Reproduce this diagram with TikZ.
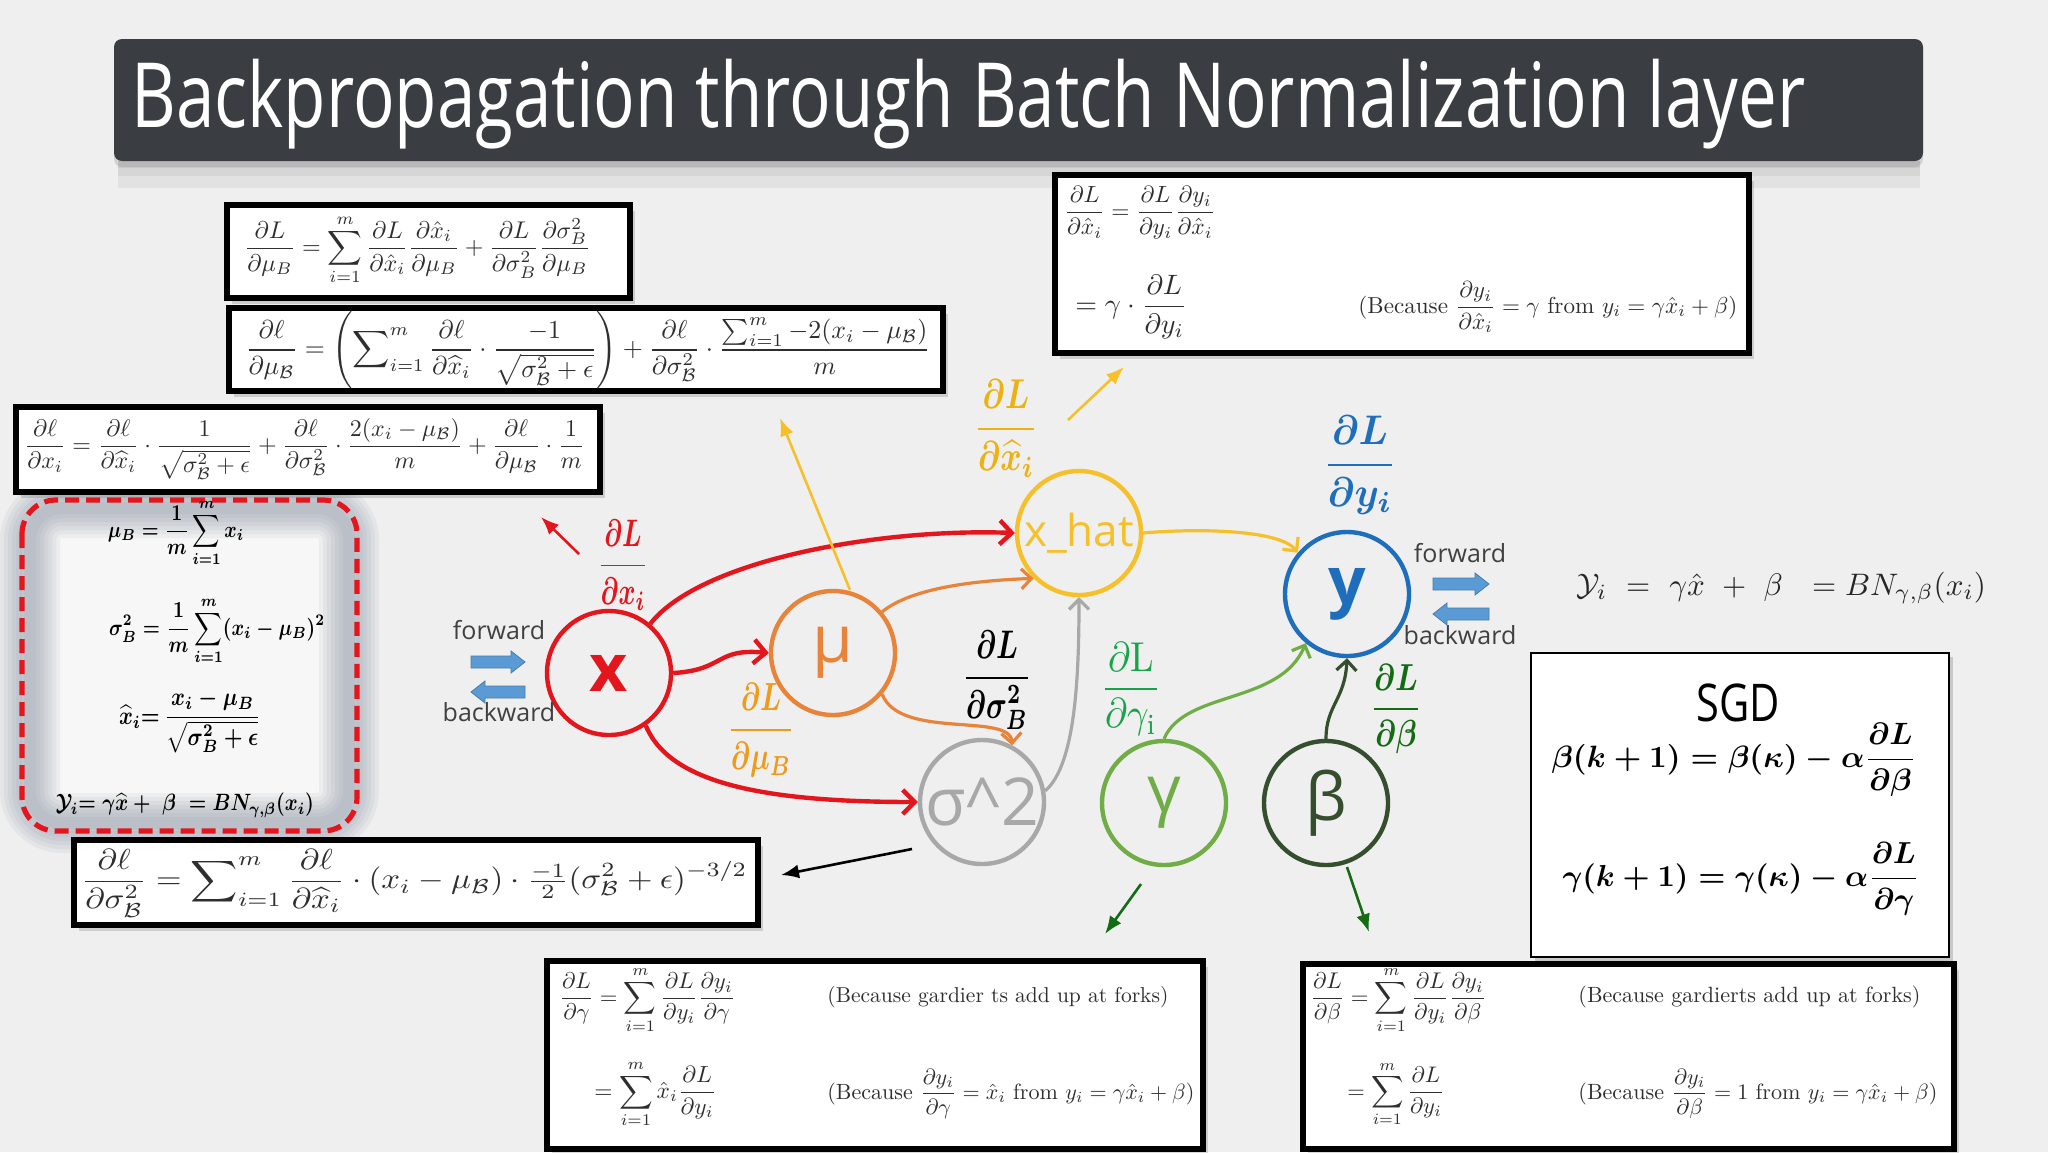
\documentclass[tikz,border=0pt]{standalone}
\usepackage{amsmath}
\usepackage{graphicx}
\usepackage{fontspec}
\newfontfamily\osans{Open Sans}
\usetikzlibrary{arrows.meta,shadows}
\definecolor{bgc}{HTML}{EFEFEF}
\definecolor{titlec}{HTML}{3A3D42}
\definecolor{redC}{HTML}{E3161E}
\definecolor{orC}{HTML}{E8833A}
\definecolor{orL}{HTML}{F09A1A}
\definecolor{goldC}{HTML}{F5C02A}
\definecolor{goldL}{HTML}{EEB112}
\definecolor{grayC}{HTML}{A8A8A8}
\definecolor{blueC}{HTML}{1F6EBB}
\definecolor{greenC}{HTML}{70AD47}
\definecolor{greenL}{HTML}{17A34A}
\definecolor{dgreenC}{HTML}{344E2E}
\definecolor{dgreenL}{HTML}{136B13}
\definecolor{arrB}{HTML}{5B9BD5}
\definecolor{glowc}{HTML}{7F8A9C}
\definecolor{txtc}{HTML}{404040}
\begin{document}
\begin{tikzpicture}[x=0.5pt,y=-0.5pt,
  fbox/.style={draw=black, line width=3.4pt, fill=white, inner sep=0pt,
    drop shadow={shadow xshift=2.5pt, shadow yshift=-3pt, opacity=0.3}},
  circ/.style={circle, line width=2.2pt, minimum size=62pt, inner sep=0pt,
    font=\osans\fontsize{33}{36}\selectfont},
  lab/.style={inner sep=0pt},
  ftxt/.style={inner sep=0pt, text=black!82},
  bigarr/.style={line width=2.2pt, -{Straight Barb[length=6pt,width=12pt]}},
  thinarr/.style={line width=1.6pt, -{Straight Barb[length=5pt,width=10pt]}},
  smallarr/.style={line width=1.3pt, -{Latex[length=9pt,width=7pt]}},
  fb/.style={font=\osans\fontsize{12.5}{14}\selectfont, text=txtc, inner sep=0pt},
  bluearr/.style={fill=arrB, draw=arrB!80!black, line width=0.4pt}
]
\useasboundingbox (0,0) rectangle (2048,1152);
\fill[bgc] (0,0) rectangle (2048,1152);

% ---------- title ----------
\fill[black, opacity=0.05] (118,161) rectangle (1920,188);
\fill[black, opacity=0.05] (118,161) rectangle (1920,176);
\fill[black, opacity=0.05] (118,161) rectangle (1920,168);
\node[fill=titlec, rounded corners=4pt, minimum width=904.5pt, minimum height=61pt,
  inner sep=0pt, drop shadow={shadow xshift=0pt, shadow yshift=-3pt, opacity=0.25}] (bar) at (1018.5,100) {};
\node[anchor=base west, text=white, inner sep=0pt] (title) at (131,127)
  {\resizebox{837pt}{\height}{\osans\fontsize{45}{50}\selectfont Backpropagation through Batch Normalization layer}};

% ---------- dashed box with glow ----------
\fill[rounded corners=17pt, fill=white!97!black] (22,500) rectangle (357,831);
\foreach \w in {30,26,22,18,14,10,6}{
  \draw[rounded corners=16pt, glowc, opacity=0.09, line width=\w pt] (30,508) rectangle (349,823);
}
\draw[rounded corners=17pt, draw=redC, line width=2.6pt, dash pattern=on 7pt off 3.5pt] (22,500) rectangle (357,831);
\node[lab] (mub) at (176,533) {\scalebox{1}[1.2]{\resizebox{68pt}{!}{\boldmath$\displaystyle \mu_B=\frac{1}{m}\sum_{i=1}^{m}x_i$}}};
\node[lab] (sgb) at (217,631) {\scalebox{1}[1.2]{\resizebox{108pt}{!}{\boldmath$\displaystyle \sigma_B^2=\frac{1}{m}\sum_{i=1}^{m}(x_i-\mu_B)^2$}}};
\node[lab] (xhb) at (190,721) {\scalebox{1}[1.2]{\resizebox{71pt}{!}{\boldmath$\displaystyle \widehat{x}_i{=}\,\frac{x_i-\mu_B}{\sqrt{\sigma_B^2+\epsilon}}$}}};
\node[lab] (ybn) at (185,805) {\scalebox{1}[1.2]{\resizebox{129pt}{!}{\boldmath$\mathcal{Y}_i{=}\ \gamma\widehat{x}+\ \beta\ =BN_{\gamma,\beta}(x_i)$}}};

% ---------- formula boxes ----------
\node[fbox, minimum width=201.5pt, minimum height=46.5pt] (b1) at (428.5,251.5) {};
\node[ftxt, anchor=west] (t1) at (244,250) {\resizebox{173pt}{!}{$\displaystyle \frac{\partial L}{\partial \mu_B}=\sum_{i=1}^{m}\frac{\partial L}{\partial \hat{x}_i}\frac{\partial \hat{x}_i}{\partial \mu_B}+\frac{\partial L}{\partial \sigma_B^2}\frac{\partial \sigma_B^2}{\partial \mu_B}$}};

\node[fbox, minimum width=357pt, minimum height=41.5pt] (b2) at (586,349.5) {};
\node[ftxt, anchor=west] (t2) at (245,350) {\resizebox{342.5pt}{!}{$\displaystyle \frac{\partial \ell}{\partial \mu_{\mathcal{B}}}=\left(\sum\nolimits_{i=1}^{m}\frac{\partial \ell}{\partial \widehat{x}_i}\cdot\frac{-1}{\sqrt{\sigma_{\mathcal{B}}^2+\epsilon}}\right)+\frac{\partial \ell}{\partial \sigma_{\mathcal{B}}^2}\cdot\frac{\sum_{i=1}^{m}-2(x_i-\mu_{\mathcal{B}})}{m}$}};

\node[fbox, minimum width=292pt, minimum height=42.5pt] (b3) at (308,449.5) {};
\node[ftxt, anchor=west] (t3) at (24,449) {\resizebox{280pt}{!}{$\displaystyle \frac{\partial \ell}{\partial x_i}=\frac{\partial \ell}{\partial \widehat{x}_i}\cdot\frac{1}{\sqrt{\sigma_{\mathcal{B}}^2+\epsilon}}+\frac{\partial \ell}{\partial \sigma_{\mathcal{B}}^2}\cdot\frac{2(x_i-\mu_{\mathcal{B}})}{m}+\frac{\partial \ell}{\partial \mu_{\mathcal{B}}}\cdot\frac{1}{m}$}};

\node[fbox, minimum width=342pt, minimum height=42.5pt, line width=3pt] (b5) at (416,882.5) {};
\node[ftxt, anchor=west] (t5) at (81,883) {\scalebox{1}[0.88]{\resizebox{333pt}{!}{$\displaystyle \frac{\partial \ell}{\partial \sigma_{\mathcal{B}}^2}=\sum\nolimits_{i=1}^{m}\frac{\partial \ell}{\partial \widehat{x}_i}\cdot(x_i-\mu_{\mathcal{B}})\cdot\tfrac{-1}{2}(\sigma_{\mathcal{B}}^2+\epsilon)^{-3/2}$}}};

\node[fbox, minimum width=347pt, minimum height=89pt, line width=2.8pt] (b4) at (1402,264) {};
\node[ftxt, anchor=west] (t4a) at (1064,213) {\resizebox{75.5pt}{!}{$\displaystyle \frac{\partial L}{\partial \hat{x}_i}=\frac{\partial L}{\partial y_i}\frac{\partial y_i}{\partial \hat{x}_i}$}};
\node[ftxt, anchor=west] (t4b) at (1075,307) {\resizebox{56pt}{!}{$\displaystyle =\gamma\cdot\frac{\partial L}{\partial y_i}$}};
\node[ftxt, anchor=west] (t4c) at (1358,307) {\resizebox{189.5pt}{!}{(Because $\dfrac{\partial y_i}{\partial \hat{x}_i}=\gamma$ from $y_i=\gamma\hat{x}_i+\beta$)}};

\node[fbox, minimum width=328pt, minimum height=94pt, line width=2.8pt] (b6) at (875,1055) {};
\node[ftxt, anchor=west] (t6a) at (559,1000) {\resizebox{88pt}{!}{$\displaystyle \frac{\partial L}{\partial \gamma}=\sum_{i=1}^{m}\frac{\partial L}{\partial y_i}\frac{\partial y_i}{\partial \gamma}$}};
\node[ftxt, anchor=west] (t6b) at (827,997) {\resizebox{170.5pt}{!}{(Because gardier ts add up at forks)}};
\node[ftxt, anchor=west] (t6c) at (594,1094) {\resizebox{61pt}{!}{$\displaystyle =\sum_{i=1}^{m}\hat{x}_i\frac{\partial L}{\partial y_i}$}};
\node[ftxt, anchor=west] (t6d) at (827,1094) {\resizebox{183.5pt}{!}{(Because $\dfrac{\partial y_i}{\partial \gamma}=\hat{x}_i$ from $y_i=\gamma\hat{x}_i+\beta$)}};

\node[fbox, minimum width=325.5pt, minimum height=92.5pt, line width=2.8pt] (b7) at (1628.5,1056.5) {};
\node[ftxt, anchor=west] (t7a) at (1310,1000) {\resizebox{88pt}{!}{$\displaystyle \frac{\partial L}{\partial \beta}=\sum_{i=1}^{m}\frac{\partial L}{\partial y_i}\frac{\partial y_i}{\partial \beta}$}};
\node[ftxt, anchor=west] (t7b) at (1578,997) {\resizebox{171pt}{!}{(Because gardierts add up at forks)}};
\node[ftxt, anchor=west] (t7c) at (1347,1094) {\resizebox{48.5pt}{!}{$\displaystyle =\sum_{i=1}^{m}\frac{\partial L}{\partial y_i}$}};
\node[ftxt, anchor=west] (t7d) at (1578,1094) {\resizebox{179.5pt}{!}{(Because $\dfrac{\partial y_i}{\partial \beta}=1$ from $y_i=\gamma\hat{x}_i+\beta$)}};

% ---------- SGD box ----------
\node[draw=black, line width=1.2pt, fill=white, minimum width=209pt, minimum height=152pt, inner sep=0pt,
  drop shadow={shadow xshift=2pt, shadow yshift=-2pt, opacity=0.35}] (sgd) at (1740,805) {};
\node[lab] (sgdt) at (1738,703) {\osans\fontsize{26}{30}\selectfont\scalebox{0.8}[1]{SGD}};
\node[lab] (sgd1) at (1734,760) {\resizebox{182.5pt}{!}{\boldmath$\beta(k+1)=\beta(\kappa)-\alpha\dfrac{\partial L}{\partial\beta}$}};
\node[lab] (sgd2) at (1741,879) {\resizebox{178.5pt}{!}{\boldmath$\gamma(k+1)=\gamma(\kappa)-\alpha\dfrac{\partial L}{\partial\gamma}$}};

% ---------- right formula ----------
\node[lab, text=black!85] (bnf) at (1781,588) {\resizebox{205pt}{!}{$\mathcal{Y}_i\ =\ \gamma\hat{x}\ +\ \beta\ \ =BN_{\gamma,\beta}(x_i)$}};

% ---------- graph nodes ----------
\node[circ, draw=redC, text=redC, font=\osans\bfseries\fontsize{33}{36}\selectfont] (x) at (609,673) {x};
\node[circ, draw=orC, text=orC] (mu) at (833,653) {μ};
\node[circ, draw=goldC, text=goldC, font=\osans\fontsize{22}{26}\selectfont] (xh) at (1079,533) {x\_hat};
\node[circ, draw=grayC, text=grayC] (s2) at (982,802) {σ\^{}2};
\node[circ, draw=blueC, text=blueC, font=\osans\bfseries\fontsize{33}{36}\selectfont] (y) at (1347,594) {y};
\node[circ, draw=greenC, text=greenC] (g) at (1164,803) {γ};
\node[circ, draw=dgreenC, text=dgreenC] (b) at (1326,803) {β};

% ---------- connectors ----------
\draw[bigarr, redC] (x.50) .. controls (700,560) and (880,528) .. (xh.west);
\draw[bigarr, redC] (x.east) .. controls (725,670) and (715,648) .. (mu.west);
\draw[bigarr, redC] (x.-55) .. controls (670,785) and (770,802) .. (s2.west);
\draw[thinarr, orC] (mu.40) .. controls (915,585) and (990,580) .. (xh.-135);
\draw[thinarr, orC] (mu.-40) .. controls (900,740) and (1010,712) .. (s2.62);
\draw[thinarr, grayC] (s2.10) .. controls (1075,765) and (1079,680) .. (xh.south);
\draw[thinarr, goldC] (xh.east) .. controls (1200,528) and (1280,530) .. (y.140);
\draw[thinarr, greenC] (g.north) .. controls (1185,690) and (1280,705) .. (y.-130);
\draw[thinarr, dgreenC] (b.north) .. controls (1326,705) and (1345,700) .. (y.south);

% short pointer arrows
\coordinate (rA) at (579,554); \coordinate (rB) at (541,517);
\draw[smallarr, redC] (rA) -- (rB);
\coordinate (gA) at (850,590); \coordinate (gB) at (780,418);
\draw[smallarr, goldC] (gA) -- (gB);
\coordinate (g2A) at (1068,420); \coordinate (g2B) at (1124,367);
\draw[smallarr, goldC] (g2A) -- (g2B);
\coordinate (kA) at (912,849); \coordinate (kB) at (781,875);
\draw[smallarr, black] (kA) -- (kB);
\coordinate (lgA) at (1141,884); \coordinate (lgB) at (1105,934);
\draw[smallarr, dgreenL] (lgA) -- (lgB);
\coordinate (dgA) at (1347,867); \coordinate (dgB) at (1369,932);
\draw[smallarr, dgreenL] (dgA) -- (dgB);

% ---------- gradient labels ----------
\node[lab, text=redC] (lx) at (623,565) {\resizebox*{25.5pt}{45pt}{\boldmath$\dfrac{\partial L}{\partial x_i}$}};
\node[lab, text=orL] (lmu) at (761,730) {\resizebox*{33.5pt}{47pt}{\boldmath$\dfrac{\partial L}{\partial \mu_B}$}};
\node[lab, text=goldL] (lxh) at (1006,428) {\resizebox*{32pt}{49pt}{\boldmath$\dfrac{\partial L}{\partial \widehat{x}_i}$}};
\node[lab, text=black] (ls2) at (997,680) {\resizebox*{34.5pt}{49.5pt}{\boldmath$\dfrac{\partial L}{\partial \sigma_B^2}$}};
\node[lab, text=greenL] (lg) at (1131,689) {\resizebox*{30.5pt}{47pt}{$\dfrac{\partial \mathrm{L}}{\partial \gamma_{\mathrm{i}}}$}};
\node[lab, text=blueC] (ly) at (1360,465) {\resizebox*{37pt}{49.5pt}{\boldmath$\dfrac{\partial L}{\partial y_i}$}};
\node[lab, text=dgreenL] (lb) at (1396,709) {\resizebox*{25.5pt}{45pt}{\boldmath$\dfrac{\partial L}{\partial \beta}$}};

% ---------- forward / backward ----------
\node[fb] (fwl) at (499,630) {forward};
\node[fb] (bwl) at (499,712) {backward};
\fill[bluearr] (471,656)--(511,656)--(511,651)--(525,662)--(511,673)--(511,668)--(471,668)--cycle;
\fill[bluearr] (525,686)--(485,686)--(485,681)--(471,692)--(485,703)--(485,698)--(525,698)--cycle;
\node[fb] (fwr) at (1460,553) {forward};
\node[fb] (bwr) at (1460,635) {backward};
\fill[bluearr] (1433,578)--(1475,578)--(1475,573)--(1489,584)--(1475,595)--(1475,590)--(1433,590)--cycle;
\fill[bluearr] (1489,608)--(1447,608)--(1447,603)--(1433,614)--(1447,625)--(1447,620)--(1489,620)--cycle;
\end{tikzpicture}
\end{document}
